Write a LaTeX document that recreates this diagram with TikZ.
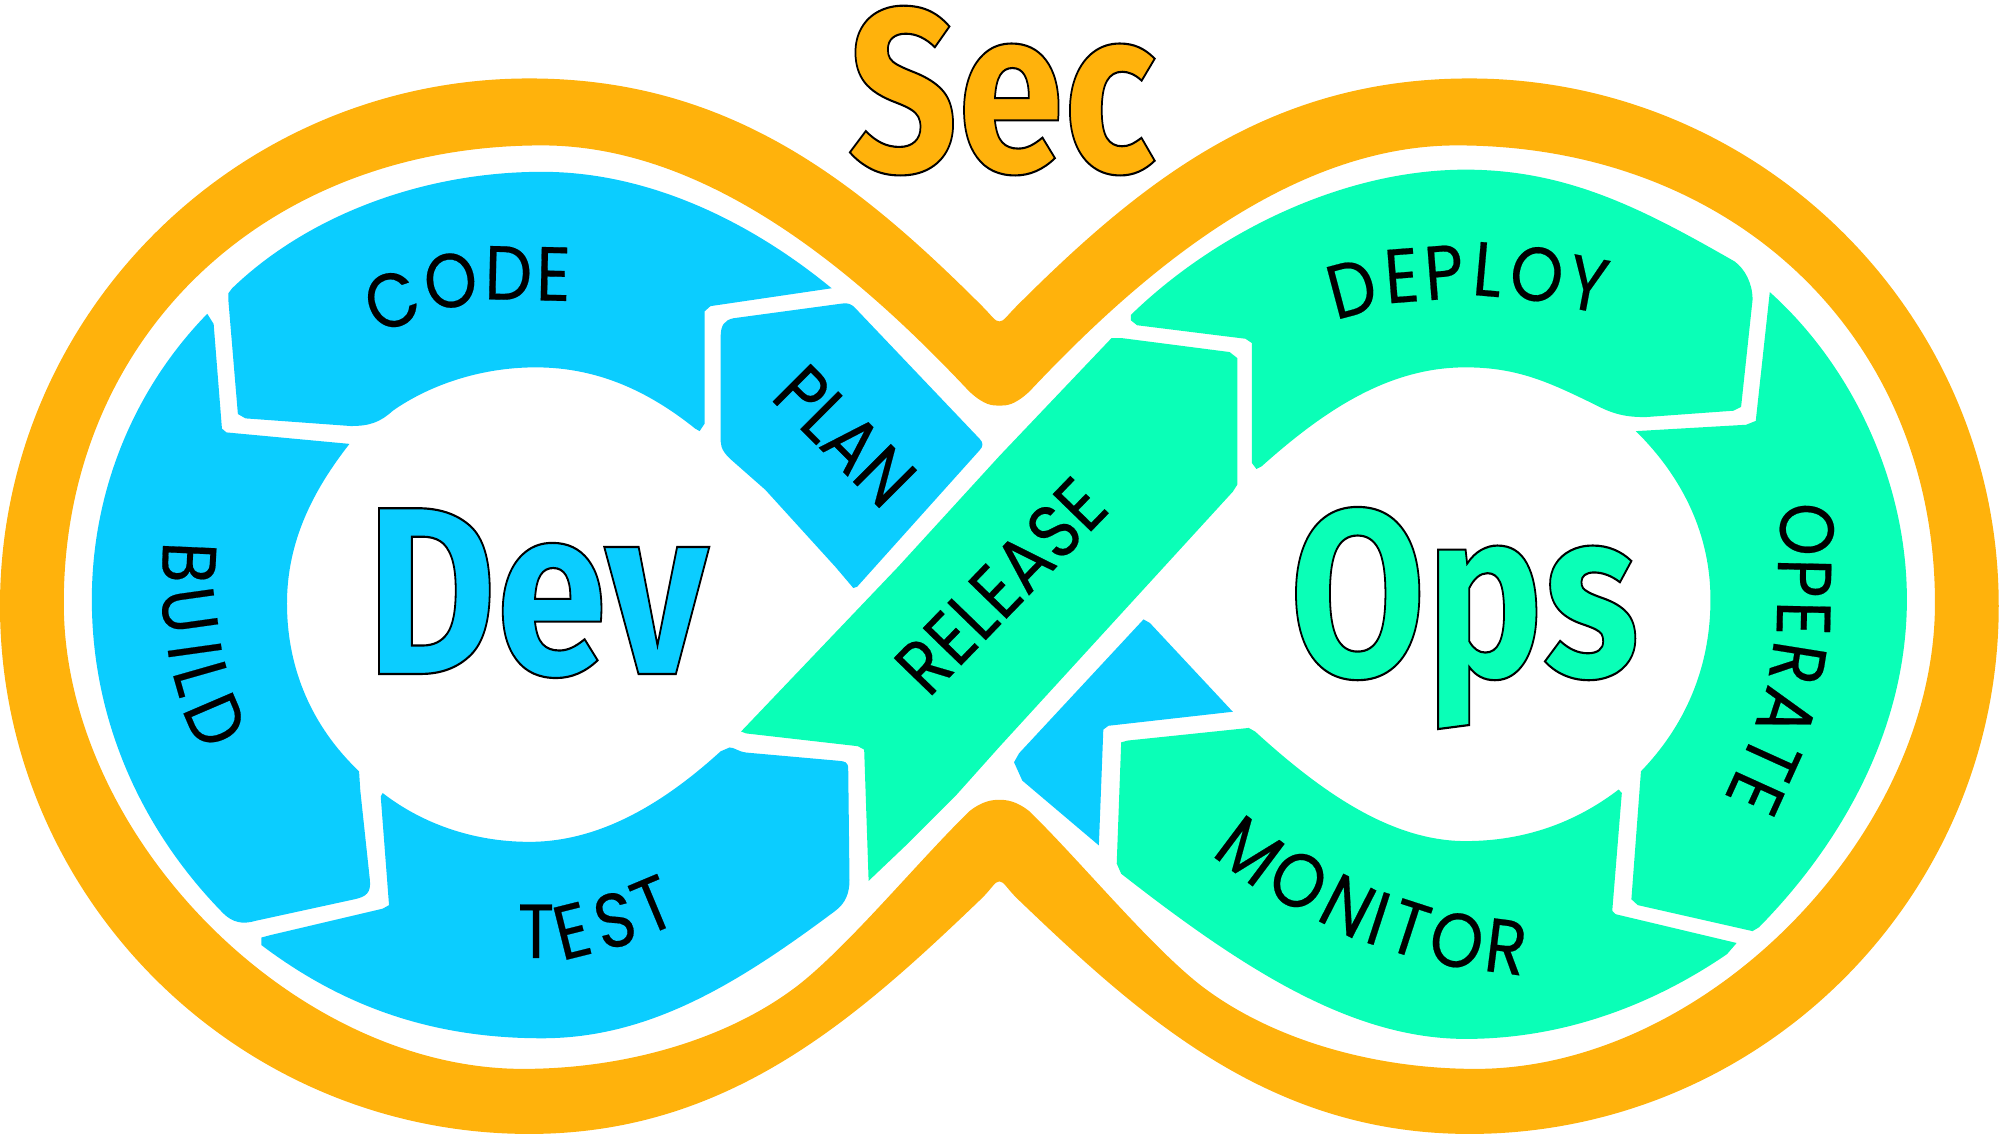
\documentclass[tikz,border=0pt]{standalone}
\usepackage{fontspec}
\usetikzlibrary{decorations.text}
\setmainfont{Fira Sans}
\newfontfamily\stepfamily[FakeStretch=0.88]{Poppins}
\definecolor{devblue}{RGB}{11,205,255}
\definecolor{opsgreen}{RGB}{10,255,183}
\definecolor{secorange}{RGB}{255,178,12}
\newcommand{\outlined}{\special{pdf:code 0 0 0 RG 2 Tr 0.09 w}}
\newcommand{\plainfill}{\special{pdf:code 0 Tr}}
\newcommand{\bigword}[4]{\resizebox*{#1}{#2}{\textcolor{#3}{\outlined\bfseries #4\plainfill}}}
\newcommand{\labelfont}{\stepfamily\fontsize{30}{30}\selectfont\special{pdf:code 0 0 0 RG 2 Tr 0.08 w}}
\tikzset{
  devpart/.style={fill=devblue},
  opspart/.style={fill=opsgreen},
  secband/.style={fill=secorange,even odd rule},
  steplabel/.style={decorate,decoration={text along path,text={|\labelfont|#1},text align={fit to path}}}
}
\begin{document}
\begin{tikzpicture}[x=0.5pt,y=-0.5pt]
\useasboundingbox (0,0) rectangle (1568,889);
% outer band
\fill[secband] (783.5,252) .. controls (780,252) and (778,248) .. (770,240) .. controls (670,140) and (570,61.5) .. (415,61.5) .. controls (186,61.5) and (0,247) .. (0,475) .. controls (0,703) and (186,889) .. (415,889) .. controls (570,889) and (670,800) .. (770,704) .. controls (778,696) and (780,691) .. (783.5,691) .. controls (787,691) and (789,696) .. (797,704) .. controls (897,800) and (997,889) .. (1152,889) .. controls (1381,889) and (1567,703) .. (1567,475) .. controls (1567,247) and (1381,61.5) .. (1152,61.5) .. controls (997,61.5) and (897,140) .. (797,240) .. controls (789,248) and (787,252) .. (783.5,252) -- cycle
  (783.5,318) .. controls (778,318) and (772,318) .. (760,307) .. controls (680,222) and (560,114) .. (425,114) .. controls (207,114) and (50,265) .. (50,473) .. controls (50,655) and (230,838) .. (410,838) .. controls (490,838) and (570,815) .. (625,773) .. controls (665,742) and (720,675) .. (760,636) .. controls (770,628) and (778,627) .. (783.5,627) .. controls (789,627) and (797,628) .. (807,636) .. controls (847,675) and (902,742) .. (942,773) .. controls (997,815) and (1077,838) .. (1157,838) .. controls (1337,838) and (1517,655) .. (1517,473) .. controls (1517,265) and (1360,114) .. (1142,114) .. controls (1007,114) and (887,222) .. (807,307) .. controls (795,318) and (789,318) .. (783.5,318) -- cycle;
% dev side
\fill[devpart] (179,235) -- (179,230) -- (182,226) .. controls (240,170) and (330,134.7) .. (425,134.7) .. controls (510,134.7) and (590,175) .. (652,226) -- (557,240) -- (552.5,244) -- (552.5,332) -- (548.5,338) -- (545,336) .. controls (510,308) and (470,288) .. (420,288) .. controls (375,288) and (335,303) .. (308,322) .. controls (298,331) and (290,334) .. (275,334) -- (192.5,328) -- (186.5,324.6) -- cycle;
\fill[devpart] (162.5,246) -- (167.5,254) -- (174,336) -- (177.5,339) -- (274,348) .. controls (245,385) and (225,425) .. (225,473) .. controls (225,525) and (245,570) .. (281.5,604.7) -- (282.5,620) -- (290,690) .. controls (291,700) and (287,703) .. (278,705) -- (200,722) .. controls (190,725) and (182,723) .. (175,716) .. controls (115,655) and (72,570) .. (72,470) .. controls (72,385) and (105,305) .. (162.5,246) -- cycle;
\fill[devpart] (565,263.7) .. controls (565,255) and (568,251) .. (575,249.5) -- (660,238) .. controls (665,237) and (668,239) .. (670,241) -- (768,344) .. controls (771,347) and (771,350) .. (768,353) -- (672,460) -- (669,461) -- (655,444.5) -- (600,384) -- (575,362) .. controls (569,357) and (565,352) .. (565,346) -- cycle;
\fill[devpart] (300,621.7) -- (298.5,624.5) -- (305,709.6) -- (300,712.4) -- (212.5,733) -- (205,735) -- (205,741) .. controls (270,790) and (340,814) .. (425,814) .. controls (510,814) and (580,770) .. (655,714) .. controls (663,708) and (666,700) .. (666,690) -- (665,603) .. controls (665,597) and (662,597) .. (658,596.5) -- (585,590) .. controls (578,589) and (576,586) .. (572,586) -- (565,589) .. controls (520,630) and (470,660) .. (415,660) .. controls (370,660) and (330,645) .. (300,621.7) -- cycle;
\fill[devpart] (896.5,485.6) -- (901.5,488.4) -- (966.5,558) -- (869,569) -- (865,572) -- (861.5,662.8) -- (801.5,612) -- (795,597.6) -- (799,590.5) -- cycle;
% ops side
\fill[opspart] (871.5,265) -- (879,265) -- (964,276) -- (970,280.7) -- (970,380) -- (966.5,385.5) -- (784,585) -- (750,623) -- (710,663) -- (681,690.6) -- (677.5,587.7) -- (672.5,585) -- (585,575) -- (581,573.5) -- (704,444.5) -- (784,357) -- cycle;
\fill[opspart] (886.5,251) -- (891.5,255) -- (976.5,265.6) -- (981.5,269) -- (981.5,363) -- (985,367.7) -- (989,365.7) .. controls (1040,320) and (1090,288) .. (1149,288) .. controls (1190,288) and (1215,300) .. (1250,317) .. controls (1265,325) and (1275,327) .. (1290,327) -- (1359,322) -- (1365,319) -- (1374,235) .. controls (1374,222) and (1368,211) .. (1360,205) .. controls (1290,165) and (1230,133) .. (1149,133) .. controls (1050,133) and (950,185) .. (886.5,247) -- cycle;
\fill[opspart] (1387.5,229) .. controls (1450,285) and (1495,375) .. (1495,470) .. controls (1495,570) and (1445,660) .. (1379,727) -- (1374,730) -- (1284,709.6) -- (1279,705) -- (1286.5,604.7) .. controls (1320,570) and (1341,525) .. (1341,470) .. controls (1341,420) and (1320,375) .. (1282.5,338) -- (1369,333) -- (1376.5,330) -- cycle;
\fill[opspart] (879,582) -- (884,580.6) -- (979,570.7) -- (984,573.5) .. controls (1035,620) and (1090,659.4) .. (1149,659.4) .. controls (1195,659.4) and (1235,645) .. (1269,619) -- (1271.5,621.7) -- (1264,714) -- (1266.5,716.7) -- (1361.5,739.3) -- (1354,748) .. controls (1300,785) and (1230,814.5) .. (1149,814.5) .. controls (1060,814.5) and (975,760) .. (879,685) -- (875.5,677) -- cycle;
% step names
\path[steplabel=CODE] (295,262) -- (354,241) -- (398,235) -- (447,236);
\path[steplabel=BUILD] (128,424) -- (126,470) -- (133,520) -- (145,562) -- (157,590);
\path[steplabel=PLAN] (603,312) -- (687,396);
\path[steplabel=TEST] (406,751) -- (450,751) -- (490,741) -- (533,723);
\path[steplabel=RELEASE] (728,548) -- (871.5,400);
\path[steplabel=DEPLOY] (1047,251) -- (1100,237) -- (1164,232) -- (1198,235) -- (1256,246);
\path[steplabel=OPERATE] (1397,393) -- (1394,440) -- (1393,490) -- (1385,540) -- (1371,583) -- (1351.5,626);
\path[steplabel=MONITOR] (949,670) -- (981,694) -- (1016,713) -- (1059,735) -- (1099,748) -- (1139,758) -- (1194,765);
% big words
\node[inner sep=0pt] (sec) at (785.5,71) {\bigword{120.5pt}{66.5pt}{secorange}{Sec}};
\node[inner sep=0pt] (dev) at (421,465) {\bigword{134pt}{66.5pt}{devblue}{Dev}};
\node[inner sep=0pt] (ops) at (1148,484.5) {\bigword{137pt}{87pt}{opsgreen}{Ops}};
\end{tikzpicture}
\end{document}
